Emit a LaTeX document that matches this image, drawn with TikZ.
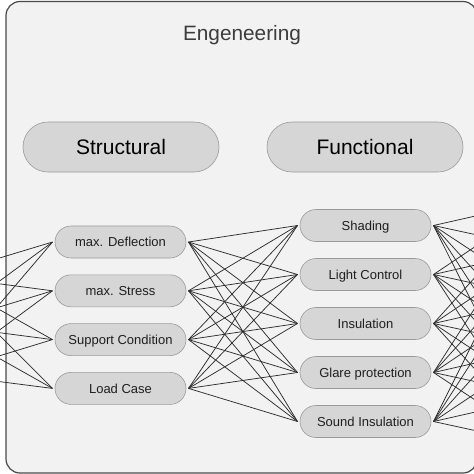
\documentclass[tikz,border=0pt]{standalone}
\usepackage{fontspec}
\setmainfont{Liberation Sans}
\usetikzlibrary{shapes.misc}
\definecolor{bgfill}{HTML}{F2F2F2}
\definecolor{framecol}{HTML}{4A4A4A}
\definecolor{pillfill}{HTML}{D6D6D6}
\definecolor{pilldraw}{HTML}{9A9A9A}
\definecolor{wirecol}{HTML}{2E2E2E}
\definecolor{titlecol}{HTML}{3C3C3C}
\tikzset{
  group/.style={rounded rectangle, draw=pilldraw, fill=pillfill, line width=0.6pt,
    minimum width=196pt, minimum height=50pt, inner sep=0pt,
    font=\fontsize{21}{21}\selectfont, text=black, text height=15pt, text depth=0pt},
  item/.style={rounded rectangle, draw=pilldraw, fill=pillfill, line width=0.6pt,
    minimum width=131pt, minimum height=32pt, inner sep=0pt,
    font=\fontsize{13}{13}\selectfont, text=black!88, text height=9.3pt, text depth=0pt,
    outer xsep=2.5pt},
  link/.style={draw=wirecol, line width=0.75pt},
  title/.style={font=\fontsize{20.8}{21}\selectfont, text=titlecol, inner sep=0pt}
}
\begin{document}
\begin{tikzpicture}[x=1pt,y=-1pt]
\useasboundingbox (0,0) rectangle (474,474);
\clip (0,0) rectangle (474,474);
\fill[white] (0,0) rectangle (474,474);
\draw[framecol, fill=bgfill, line width=1.2pt, rounded corners=14pt] (6,1.5) rectangle (477,473);

\node[title, anchor=base] (eng) at (242,40.7) {Engeneering};
\node[group] (struct) at (121,147) {Structural};
\node[group] (func) at (365,147) {Functional};

\node[item] (S1) at (120.5,242.0) {max. Deflection};
\node[item] (S2) at (120.5,290.8) {max. Stress};
\node[item] (S3) at (120.5,339.6) {Support Condition};
\node[item] (S4) at (120.5,388.4) {Load Case};

\node[item] (F1) at (365.5,225.5) {Shading};
\node[item] (F2) at (365.5,274.5) {Light Control};
\node[item] (F3) at (365.5,323.5) {Insulation};
\node[item] (F4) at (365.5,372.5) {Glare protection};
\node[item] (F5) at (365.5,421.5) {Sound Insulation};

\coordinate (L1) at (-60,276);
\coordinate (L2) at (-60,325);
\coordinate (L3) at (-60,374);
\foreach \k [evaluate=\k as \yy using 200.5+49*(\k-1)] in {1,...,6}
  \coordinate (R\k) at (544,\yy);

\foreach \i in {1,2,3}
  \foreach \j in {1,2,3,4}
    \draw[link] (L\i) -- (S\j.west);
\foreach \j in {1,2,3,4}
  \foreach \k in {1,...,5}
    \draw[link] (S\j.east) -- (F\k.west);
\foreach \k in {1,...,5}
  \foreach \m in {1,...,6}
    \draw[link] (F\k.east) -- (R\m);
\end{tikzpicture}
\end{document}
